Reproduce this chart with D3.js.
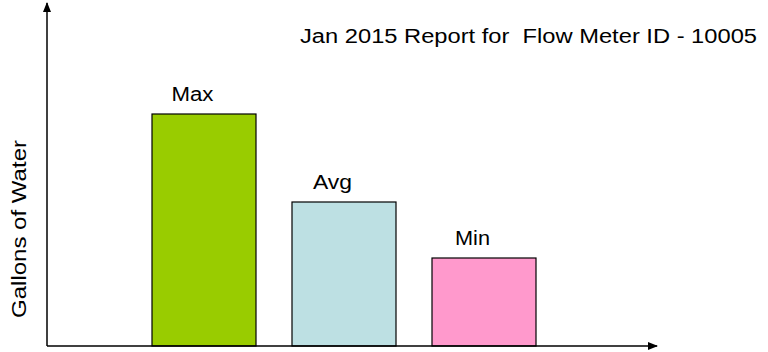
<!DOCTYPE html>
<html>
<head>
<meta charset="utf-8">
<script src="https://cdn.jsdelivr.net/npm/d3@7"></script>
<style>
  body { margin: 0; background: #fff; }
  svg { display: block; font-family: Arial, "Liberation Sans", sans-serif; }
</style>
</head>
<body>
<div id="chart"></div>
<script>
// values (no axis scale shown, so units are relative)
const categories = ['Max', 'Avg', 'Min'];
const values = [232, 144, 88];
const colors = ['#99cc00', '#bde0e3', '#ff99cc'];
const labelWidths = [42, 39, 35];  // the original text is stretched sideways

const width = 768;
const height = 352;
const originX = 47;
const originY = 346;

const svg = d3.select('#chart')
  .append('svg')
  .attr('width', width)
  .attr('height', height);

const defs = svg.append('defs');
defs.append('marker')
  .attr('id', 'arrow')
  .attr('viewBox', '0 0 10 10')
  .attr('refX', 9)
  .attr('refY', 5)
  .attr('markerWidth', 10)
  .attr('markerHeight', 10)
  .attr('markerUnits', 'userSpaceOnUse')
  .attr('orient', 'auto')
  .append('path')
  .attr('d', 'M0,1 L10,5 L0,9 Z')
  .attr('fill', '#000');

const x = d3.scaleBand()
  .domain(categories)
  .range([152, 536])
  .paddingInner(36 / 140)
  .paddingOuter(0);

const y = d3.scaleLinear()
  .domain([0, 340])
  .range([originY, originY - 340]);

// bars
svg.selectAll('rect.bar')
  .data(categories)
  .enter()
  .append('rect')
  .attr('class', 'bar')
  .attr('x', d => x(d))
  .attr('y', (d, i) => y(values[i]))
  .attr('width', x.bandwidth())
  .attr('height', (d, i) => y(0) - y(values[i]))
  .attr('fill', (d, i) => colors[i])
  .attr('stroke', '#000')
  .attr('stroke-width', 1.2);

// bar labels
svg.selectAll('text.lbl')
  .data(categories)
  .enter()
  .append('text')
  .attr('class', 'lbl')
  .attr('x', d => x(d) + x.bandwidth() / 2 - 11.5)
  .attr('y', (d, i) => y(values[i]) - 13.5)
  .attr('text-anchor', 'middle')
  .attr('textLength', (d, i) => labelWidths[i])
  .attr('lengthAdjust', 'spacingAndGlyphs')
  .style('font-size', '20px')
  .text(d => d);

// axes with arrow heads
svg.append('line')
  .attr('x1', originX).attr('y1', originY)
  .attr('x2', originX).attr('y2', 3)
  .attr('stroke', '#000')
  .attr('stroke-width', 1.5)
  .attr('marker-end', 'url(#arrow)');

svg.append('line')
  .attr('x1', originX).attr('y1', originY)
  .attr('x2', 657).attr('y2', originY)
  .attr('stroke', '#000')
  .attr('stroke-width', 1.5)
  .attr('marker-end', 'url(#arrow)');

// title
svg.append('text')
  .attr('x', 300)
  .attr('y', 43)
  .attr('textLength', 457)
  .attr('lengthAdjust', 'spacingAndGlyphs')
  .attr('xml:space', 'preserve')
  .style('font-size', '20px')
  .style('white-space', 'pre')
  .text('Jan 2015 Report for  Flow Meter ID - 10005');

// y axis label
svg.append('text')
  .attr('transform', 'translate(26, 229) rotate(-90)')
  .attr('text-anchor', 'middle')
  .attr('textLength', 178)
  .attr('lengthAdjust', 'spacingAndGlyphs')
  .style('font-size', '20px')
  .text('Gallons of Water');
</script>
</body>
</html>
